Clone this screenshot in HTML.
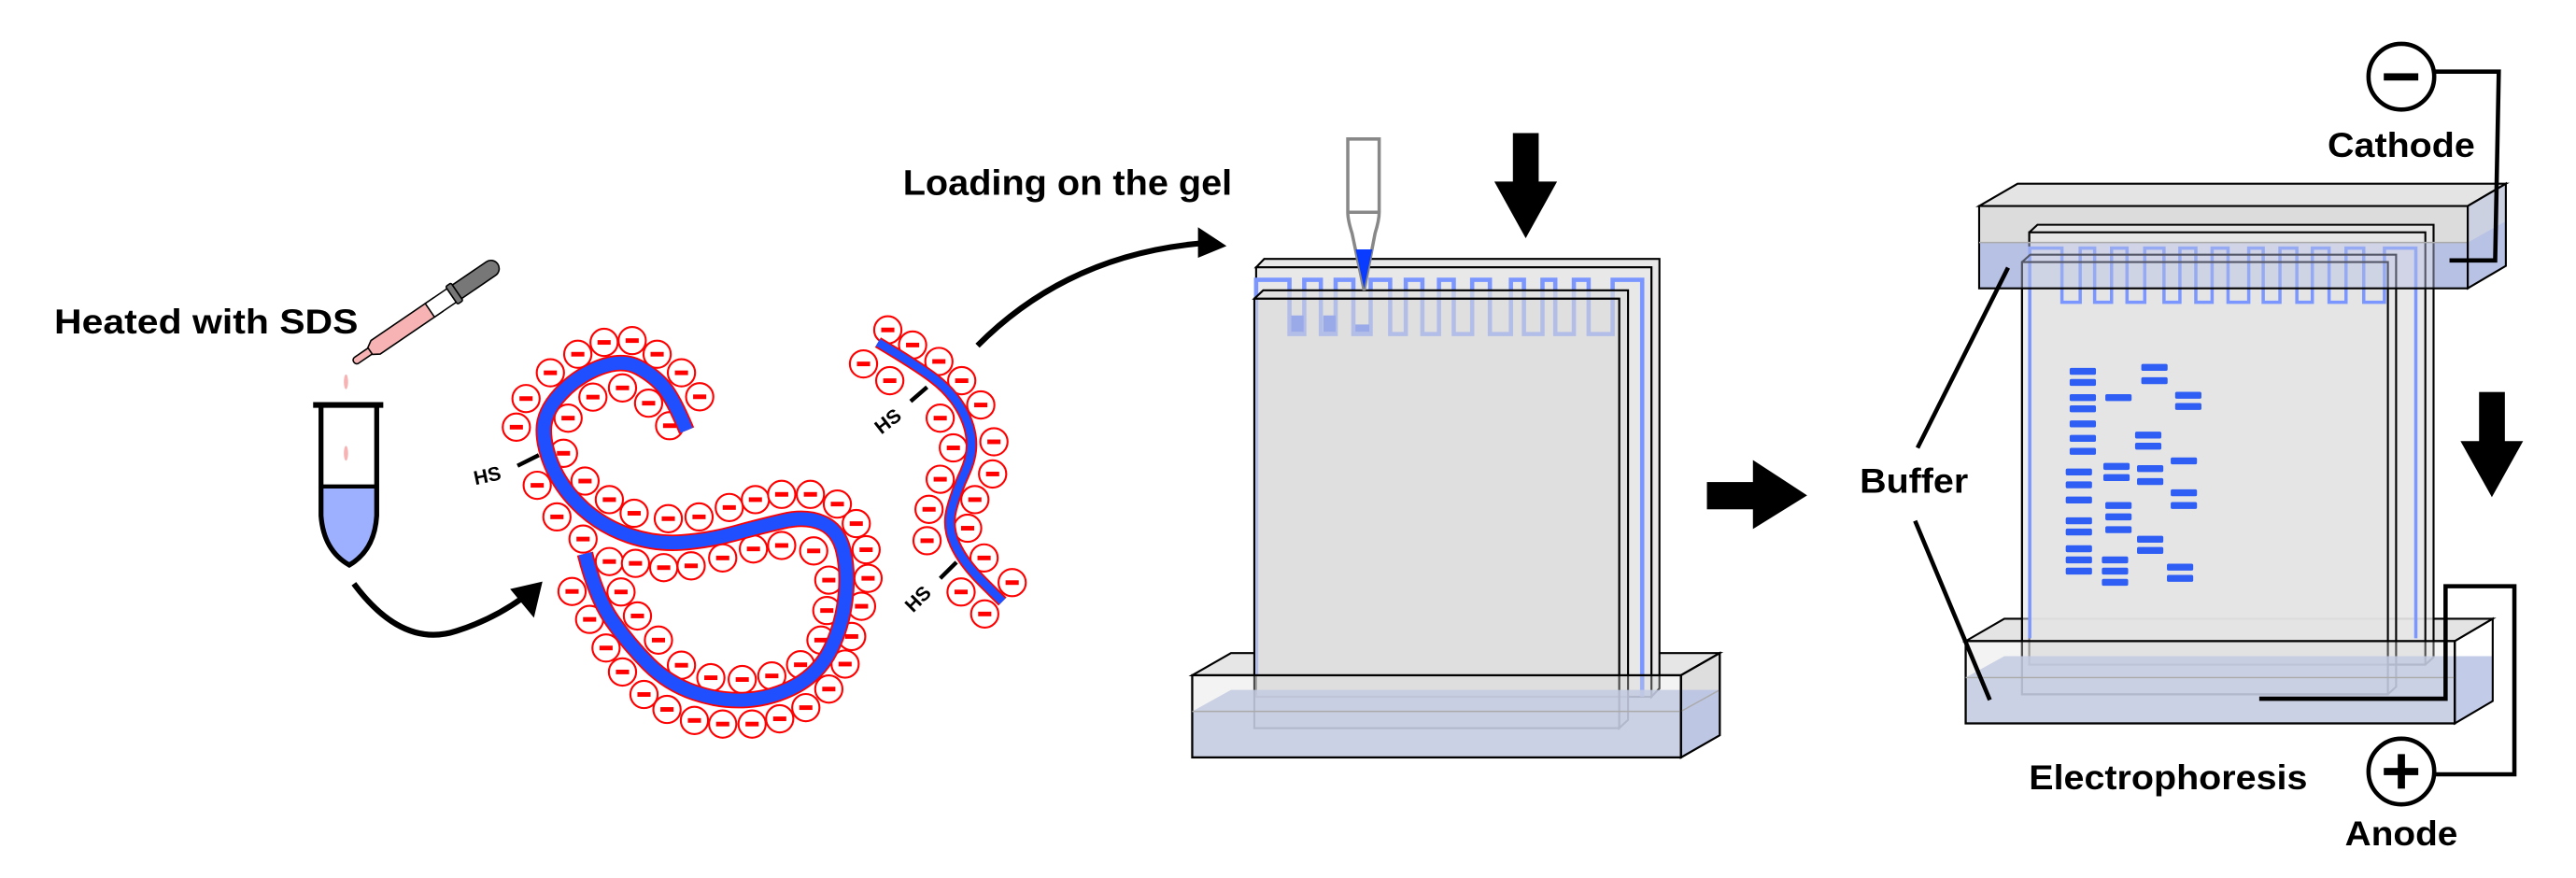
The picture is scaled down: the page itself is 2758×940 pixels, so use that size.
<!DOCTYPE html>
<html><head><meta charset="utf-8"><style>
html,body{margin:0;padding:0;background:#fff;}
svg{display:block;}
text{font-family:"Liberation Sans",Arial,sans-serif;font-weight:bold;fill:#000;}
</style></head><body>
<svg width="2758" height="940" viewBox="0 0 1568 534.4" preserveAspectRatio="none" xmlns="http://www.w3.org/2000/svg">
<defs>
<g id="c"><circle r="8.3" fill="#fff" stroke="#f00" stroke-width="1.2"/><rect x="-4" y="-1.4" width="8" height="2.8" fill="#f00"/></g>
</defs>

<!-- Left: text, dropper, tube -->
<text x="33" y="203" font-size="21" textLength="185" lengthAdjust="spacingAndGlyphs">Heated  with SDS</text>
<g transform="translate(215.4,220.4) rotate(-34.3)">
  <rect x="0" y="-2.2" width="14" height="4.4" rx="2" fill="#f7b3b3" stroke="#000" stroke-width="0.9"/>
  <path d="M12,-2.5 L16,-5 H62 V5 H16 L12,2.5Z" fill="#f7b3b3" stroke="#000" stroke-width="0.9"/>
  <rect x="56" y="-5" width="16" height="10" fill="#fff" stroke="#000" stroke-width="0.9"/>
  <rect x="72" y="-6.5" width="4" height="13" rx="1" fill="#777" stroke="#000" stroke-width="0.9"/>
  <path d="M76,-5 H101 A5,5 0 0 1 101,5 H76Z" fill="#777" stroke="#000" stroke-width="0.9"/>
</g>
<ellipse cx="210.6" cy="232.4" rx="1.3" ry="4.5" fill="#f7b3b3"/>
<ellipse cx="210.6" cy="275.9" rx="1.3" ry="4.5" fill="#f7b3b3"/>
<path d="M195.4,296.1 V313.9 Q197,335 212.6,343.9 Q228,335 229.3,313.9 V296.1Z" fill="#9db0ff"/>
<path d="M195.4,246.5 V313.9 Q197,335 212.6,343.9 Q228,335 229.3,313.9 V246.5" fill="none" stroke="#000" stroke-width="3"/>
<line x1="195.4" y1="296.1" x2="229.3" y2="296.1" stroke="#000" stroke-width="2.5"/>
<line x1="190.6" y1="246.5" x2="233.3" y2="246.5" stroke="#000" stroke-width="3.5"/>
<!-- curved arrow 1 -->
<path d="M215.4,355.3 Q245,395 278,384 Q300,377 318,364" fill="none" stroke="#000" stroke-width="3.5"/>
<polygon points="330.2,354 310.5,358.5 325,376" fill="#000"/>

<!-- big protein charges -->
<g>
<use href="#c" x="384.8" y="207.3"/><use href="#c" x="367.7" y="208.4"/><use href="#c" x="351.7" y="215.6"/><use href="#c" x="400" y="215.6"/>
<use href="#c" x="335" y="226.9"/><use href="#c" x="414.8" y="226.9"/><use href="#c" x="320.2" y="242.6"/><use href="#c" x="425.9" y="241.5"/>
<use href="#c" x="314.3" y="260"/><use href="#c" x="378.9" y="236.1"/><use href="#c" x="360.9" y="241.7"/><use href="#c" x="394.8" y="245.4"/>
<use href="#c" x="345.8" y="254.5"/><use href="#c" x="407.6" y="259.1"/><use href="#c" x="343" y="275.9"/><use href="#c" x="327" y="295.4"/>
<use href="#c" x="356.1" y="292.8"/><use href="#c" x="339" y="314.6"/><use href="#c" x="370.9" y="304.1"/><use href="#c" x="386" y="312.4"/>
<use href="#c" x="406.8" y="315.7"/><use href="#c" x="425.5" y="314.6"/><use href="#c" x="443.9" y="308.9"/><use href="#c" x="459.8" y="304.1"/>
<use href="#c" x="475.8" y="300.9"/><use href="#c" x="493.3" y="300.9"/><use href="#c" x="509.7" y="306.8"/><use href="#c" x="521.2" y="318.7"/>
<use href="#c" x="527.2" y="334.6"/><use href="#c" x="528.4" y="352"/><use href="#c" x="524.4" y="369"/><use href="#c" x="518.4" y="387.4"/>
<use href="#c" x="514.4" y="404.2"/><use href="#c" x="504.5" y="419.4"/><use href="#c" x="490.5" y="430.7"/><use href="#c" x="474.6" y="437.5"/>
<use href="#c" x="457.8" y="440.7"/><use href="#c" x="439.9" y="440.7"/><use href="#c" x="422.7" y="438.5"/><use href="#c" x="406" y="431.8"/>
<use href="#c" x="392" y="422.7"/><use href="#c" x="378.9" y="409"/><use href="#c" x="368.9" y="394.4"/><use href="#c" x="358.9" y="377"/>
<use href="#c" x="348.2" y="360"/><use href="#c" x="354.9" y="328.1"/><use href="#c" x="370.9" y="341.8"/><use href="#c" x="386.8" y="342.9"/>
<use href="#c" x="404" y="345.5"/><use href="#c" x="420.7" y="344.4"/><use href="#c" x="439.9" y="339.6"/><use href="#c" x="458.6" y="334.1"/>
<use href="#c" x="475.8" y="332"/><use href="#c" x="495.3" y="335.3"/><use href="#c" x="504.5" y="353.1"/><use href="#c" x="503.3" y="371.6"/>
<use href="#c" x="499.7" y="389.6"/><use href="#c" x="487.3" y="404.6"/><use href="#c" x="469.8" y="411.4"/><use href="#c" x="451.8" y="413.6"/>
<use href="#c" x="432.7" y="412.5"/><use href="#c" x="414.8" y="404.9"/><use href="#c" x="400.8" y="389.6"/><use href="#c" x="388" y="374.9"/>
<use href="#c" x="378" y="360.3"/>
</g>
<path id="bigr" d="M417.9,262 Q410,243 404.4,236.1 Q398.8,229.1 388.9,223.7 Q378.9,218.2 364.9,223.7 Q350.9,229.1 341,240 Q331,250.9 331,261.8 Q331,272.6 337,285.7 Q343,298.7 355,309.6 Q366.9,320.4 382.9,325.9 Q398.8,331.3 414.8,330.2 Q430.7,329.1 446.7,324.8 Q462.6,320.4 476.6,317.2 Q490.5,313.9 500.5,318.3 Q510.5,322.6 513.5,335.7 Q516.5,348.7 514.5,365 Q512.5,381.3 505.5,395.5 Q498.5,409.6 484.6,417.3 Q470.6,424.9 454.7,426 Q438.7,427 422.8,421.6 Q406.8,416.1 394.8,404.2 Q382.8,392.2 372.9,378.1 Q362.9,364 356.1,337" fill="none" stroke="#f00" stroke-width="10"/>
<path d="M417.9,262 Q410,243 404.4,236.1 Q398.8,229.1 388.9,223.7 Q378.9,218.2 364.9,223.7 Q350.9,229.1 341,240 Q331,250.9 331,261.8 Q331,272.6 337,285.7 Q343,298.7 355,309.6 Q366.9,320.4 382.9,325.9 Q398.8,331.3 414.8,330.2 Q430.7,329.1 446.7,324.8 Q462.6,320.4 476.6,317.2 Q490.5,313.9 500.5,318.3 Q510.5,322.6 513.5,335.7 Q516.5,348.7 514.5,365 Q512.5,381.3 505.5,395.5 Q498.5,409.6 484.6,417.3 Q470.6,424.9 454.7,426 Q438.7,427 422.8,421.6 Q406.8,416.1 394.8,404.2 Q382.8,392.2 372.9,378.1 Q362.9,364 356.1,337" fill="none" stroke="#1f4fff" stroke-width="8"/>
<line x1="315" y1="283.5" x2="328" y2="277" stroke="#000" stroke-width="2.5"/>
<text x="288" y="293" font-size="12" transform="rotate(-12 299 288)">HS</text>

<!-- small protein -->
<g>
<use href="#c" x="540.4" y="200.8"/><use href="#c" x="555.5" y="210"/><use href="#c" x="525.6" y="221.5"/><use href="#c" x="571.5" y="220"/>
<use href="#c" x="541.6" y="231.7"/><use href="#c" x="585.4" y="231.7"/><use href="#c" x="597" y="246.5"/><use href="#c" x="572.3" y="254.5"/>
<use href="#c" x="605" y="268.9"/><use href="#c" x="580.3" y="272.6"/><use href="#c" x="604.2" y="288.5"/><use href="#c" x="572.3" y="291.7"/>
<use href="#c" x="593.4" y="304.1"/><use href="#c" x="565.5" y="310"/><use href="#c" x="589" y="321.5"/><use href="#c" x="564.3" y="329.1"/>
<use href="#c" x="599" y="339.6"/><use href="#c" x="616.1" y="354.6"/><use href="#c" x="585" y="360.3"/><use href="#c" x="599.4" y="373.7"/>
</g>
<path d="M534.4,208.4 Q558.3,222.6 568.3,230.2 Q578.3,237.8 584.3,247.6 Q590.2,257.4 591.2,267.2 Q592.2,277 587.2,287.9 Q582.2,298.7 579.3,309.6 Q576.3,320.4 581.3,331.3 Q586.2,342.2 598.2,354.2 L610.2,366.1" fill="none" stroke="#f00" stroke-width="7"/>
<path d="M534.4,208.4 Q558.3,222.6 568.3,230.2 Q578.3,237.8 584.3,247.6 Q590.2,257.4 591.2,267.2 Q592.2,277 587.2,287.9 Q582.2,298.7 579.3,309.6 Q576.3,320.4 581.3,331.3 Q586.2,342.2 598.2,354.2 L610.2,366.1" fill="none" stroke="#1f4fff" stroke-width="5"/>
<line x1="554.3" y1="244.3" x2="564.3" y2="235.6" stroke="#000" stroke-width="2.5"/>
<text x="531" y="259" font-size="12" transform="rotate(-38 542 254)">HS</text>
<line x1="572.3" y1="352" x2="582.2" y2="342.2" stroke="#000" stroke-width="2.5"/>
<text x="549" y="367" font-size="12" transform="rotate(-45 560 362)">HS</text>

<!-- arrow 2 -->
<text x="549.6" y="118.4" font-size="21.5" textLength="200.4" lengthAdjust="spacingAndGlyphs">Loading on the gel</text>
<path d="M595,210.4 Q650,155 732,148" fill="none" stroke="#000" stroke-width="3.5"/>
<polygon points="746.6,149.7 729.2,138.3 729.2,156.9" fill="#000"/>

<!-- Gel 1 -->
<polygon points="749.3,397.5 1046.8,397.5 1023.2,411 725.7,411" fill="#e6e6e6" stroke="#000" stroke-width="1.2"/>
<polygon points="1023.2,411 1046.8,397.5 1046.8,447.5 1023.2,461" fill="#dedede" stroke="#000" stroke-width="1.2"/>
<polygon points="764.6,162.7 769.5,157.6 1010.1,157.6 1010.1,419 1005.2,424.1 1005.2,162.7" fill="#e8e8e8" stroke="#000" stroke-width="1.2"/>
<rect x="764.6" y="162.7" width="240.6" height="261.4" fill="#e8e8e8" stroke="#000" stroke-width="1.2"/>
<path d="M764.6,411.5 V170.3 H784.9 V203.3 H793.9 V170.3 H804 V203.3 H813 V170.3 H823.8 V203.3 H834.3 V170.3 H846.2 V203.3 H855.7 V170.3 H865.8 V203.3 H875.9 V170.3 H884.9 V203.3 H896.1 V170.3 H906.9 V203.3 H919.7 V170.3 H927.6 V203.3 H938.9 V170.3 H946.7 V203.3 H958 V170.3 H967 V203.3 H981.6 V170.3 H999.6 V424" fill="none" stroke="#7b97ff" stroke-width="2.6"/>
<polygon points="763.5,181.8 768.9,176.7 991,176.7 991,438.1 985.6,443.2 985.6,181.8" fill="#dedede" stroke="#000" stroke-width="1.2" fill-opacity="0.7"/>
<rect x="763.5" y="181.8" width="222.1" height="261.4" fill="#d8d8d8" fill-opacity="0.6" stroke="#000" stroke-width="1.2"/>
<rect x="786" y="192" width="7.5" height="10" fill="#9aaae8"/>
<rect x="805.5" y="192" width="7.5" height="10" fill="#9aaae8"/>
<rect x="825" y="197.5" width="8.5" height="4.5" fill="#9aaae8"/>
<polygon points="725.7,433 749.3,419.9 1046.8,419.9 1046.8,447.5 1023.2,461 725.7,461" fill="#b7c2e4" fill-opacity="0.85"/>
<rect x="725.7" y="411" width="297.5" height="50" fill="#dcdcdc" fill-opacity="0.35" stroke="#000" stroke-width="1.3"/>
<line x1="725.7" y1="433" x2="1023.2" y2="433" stroke="#aaa" stroke-width="0.8"/>
<line x1="1023.2" y1="433" x2="1046.8" y2="419.9" stroke="#aaa" stroke-width="0.8"/>
<polygon points="1023.2,411 1046.8,397.5 1046.8,447.5 1023.2,461" fill="none" stroke="#000" stroke-width="1.2"/>
<path d="M820.4,84.6 H839.5 V129.2 Q839.5,134 837,142 L830.3,176.7 L823,142 Q820.4,134 820.4,129.2Z" fill="#fff" stroke="#888" stroke-width="2"/>
<line x1="820.4" y1="129.2" x2="839.5" y2="129.2" stroke="#888" stroke-width="2"/>
<polygon points="825.2,151.8 835.3,151.8 830.3,175.5" fill="#0a3cff"/>
<rect x="920.9" y="81" width="15.7" height="30" fill="#000"/>
<polygon points="909.6,110.5 947.8,110.5 928.7,145" fill="#000"/>
<rect x="1039" y="293.4" width="30" height="16.6" fill="#000"/>
<polygon points="1067,280 1100,301.5 1067,322" fill="#000"/>

<!-- Gel 2 -->
<polygon points="1204.7,125.4 1228.1,111.8 1525.3,111.8 1502.1,125.4" fill="#e4e4e4" stroke="#000" stroke-width="1.2"/>
<polygon points="1204.7,147.6 1228.1,134.6 1525.3,134.6 1525.3,161.8 1502.1,175.5 1204.7,175.5" fill="#b7c2e4"/>
<rect x="1204.7" y="125.4" width="297.4" height="22.2" fill="#dcdcdc"/>
<polygon points="1502.1,125.4 1525.3,111.8 1525.3,134.6 1502.1,147.6" fill="#e0e0e0"/>
<polygon points="1196.5,390.2 1220,376.6 1517.3,376.6 1494.2,390.2" fill="#e4e4e4" stroke="#000" stroke-width="1.2"/>
<polygon points="1235.2,141.4 1240.2,136.8 1481.3,136.8 1481.3,400 1476.3,404.5 1235.2,404.5" fill="#e8e8e8" fill-opacity="0.8" stroke="#000" stroke-width="1.2"/>
<rect x="1235.2" y="141.4" width="241.1" height="263.1" fill="#e6e6e6" fill-opacity="0.6" stroke="#000" stroke-width="1.2"/>
<rect x="1230.8" y="159.5" width="222.7" height="263.1" fill="#e2e2e2" fill-opacity="0.55"/>
<path d="M1235.5,388.5 V151 H1255.1 V184 H1266.2 V151 H1275 V184 H1285.3 V151 H1294.7 V184 H1305.5 V151 H1317.2 V184 H1326.9 V151 H1336.6 V184 H1346.5 V151 H1356.2 V184 H1368.8 V151 H1377.6 V184 H1387.8 V151 H1398.1 V184 H1407.5 V151 H1417.7 V184 H1428 V151 H1438.8 V184 H1451.4 V151 H1470.5 V388.5" fill="none" stroke="#7b97ff" stroke-width="2"/>
<polygon points="1230.8,159.5 1235.8,155 1458.5,155 1458.5,418 1453.5,422.6 1230.8,422.6" fill="none" stroke="#000" stroke-width="1.2"/>
<rect x="1230.8" y="159.5" width="222.7" height="263.1" fill="none" stroke="#000" stroke-width="1.2"/>
<g fill="#2f5ef5">
<rect x="1259.8" y="223.9" width="16" height="4.2" rx="1"/><rect x="1259.8" y="230.7" width="16" height="4.2" rx="1"/>
<rect x="1259.8" y="239.9" width="16" height="4.2" rx="1"/><rect x="1259.8" y="246.7" width="16" height="4.2" rx="1"/>
<rect x="1259.8" y="255.9" width="16" height="4.2" rx="1"/><rect x="1259.8" y="264.7" width="16" height="4.2" rx="1"/>
<rect x="1259.8" y="272.6" width="16" height="4.2" rx="1"/>
<rect x="1257.4" y="285.2" width="16" height="4.2" rx="1"/><rect x="1257.4" y="293" width="16" height="4.2" rx="1"/>
<rect x="1257.4" y="302.2" width="16" height="4.2" rx="1"/><rect x="1257.4" y="314.9" width="16" height="4.2" rx="1"/>
<rect x="1257.4" y="321.7" width="16" height="4.2" rx="1"/><rect x="1257.4" y="331.9" width="16" height="4.2" rx="1"/>
<rect x="1257.4" y="338.7" width="16" height="4.2" rx="1"/><rect x="1257.4" y="345.5" width="16" height="4.2" rx="1"/>
<rect x="1281.5" y="239.9" width="16" height="4.2" rx="1"/>
<rect x="1280.3" y="281.8" width="16" height="4.2" rx="1"/><rect x="1280.3" y="288.6" width="16" height="4.2" rx="1"/>
<rect x="1281.5" y="305.6" width="16" height="4.2" rx="1"/><rect x="1281.5" y="312.5" width="16" height="4.2" rx="1"/>
<rect x="1281.5" y="320.3" width="16" height="4.2" rx="1"/>
<rect x="1279.4" y="338.7" width="16" height="4.2" rx="1"/><rect x="1279.4" y="345.5" width="16" height="4.2" rx="1"/>
<rect x="1279.4" y="352.3" width="16" height="4.2" rx="1"/>
<rect x="1303.4" y="221.5" width="16" height="4.2" rx="1"/><rect x="1303.4" y="229.6" width="16" height="4.2" rx="1"/>
<rect x="1299.6" y="262.7" width="16" height="4.2" rx="1"/><rect x="1299.6" y="269.5" width="16" height="4.2" rx="1"/>
<rect x="1300.8" y="283.1" width="16" height="4.2" rx="1"/><rect x="1300.8" y="291" width="16" height="4.2" rx="1"/>
<rect x="1300.8" y="326.1" width="16" height="4.2" rx="1"/><rect x="1300.8" y="332.9" width="16" height="4.2" rx="1"/>
<rect x="1324" y="238.5" width="16" height="4.2" rx="1"/><rect x="1324" y="245.3" width="16" height="4.2" rx="1"/>
<rect x="1321.3" y="278.4" width="16" height="4.2" rx="1"/>
<rect x="1321.3" y="297.8" width="16" height="4.2" rx="1"/><rect x="1321.3" y="305.6" width="16" height="4.2" rx="1"/>
<rect x="1319" y="343.1" width="16" height="4.2" rx="1"/><rect x="1319" y="349.9" width="16" height="4.2" rx="1"/>
</g>
<rect x="1204.7" y="147.6" width="297.4" height="27.9" fill="#b7c2e4" fill-opacity="0.45"/>
<rect x="1204.7" y="125.4" width="297.4" height="50.1" fill="none" stroke="#000" stroke-width="1.2"/>
<line x1="1204.7" y1="147.6" x2="1502.1" y2="147.6" stroke="#aaa" stroke-width="0.8"/>
<polygon points="1502.1,125.4 1525.3,111.8 1525.3,161.8 1502.1,175.5" fill="#b7c2e4" fill-opacity="0.5" stroke="#000" stroke-width="1.2"/>
<polygon points="1196.5,412.4 1220,399.4 1517.3,399.4 1517.3,426.7 1494.2,440.3 1196.5,440.3" fill="#b7c2e4" fill-opacity="0.85"/>
<rect x="1196.5" y="390.2" width="297.7" height="50.1" fill="#dcdcdc" fill-opacity="0.35" stroke="#000" stroke-width="1.3"/>
<line x1="1196.5" y1="412.4" x2="1494.2" y2="412.4" stroke="#aaa" stroke-width="0.8"/>
<polygon points="1494.2,390.2 1517.3,376.6 1517.3,426.7 1494.2,440.3" fill="none" stroke="#000" stroke-width="1.2"/>
<polyline points="1482,43.6 1521,43.6 1518.8,158.5 1491,158.5" fill="none" stroke="#000" stroke-width="2.6"/>
<polyline points="1482,471.3 1530.5,471.3 1530.5,356.8 1488.6,356.8 1488.6,425.3 1375.2,425.3" fill="none" stroke="#000" stroke-width="2.6"/>
<circle cx="1461.7" cy="46.7" r="20" fill="#fff" stroke="#000" stroke-width="2.6"/>
<rect x="1451" y="44.6" width="21" height="4.4" fill="#000"/>
<circle cx="1461.7" cy="469.6" r="20" fill="#fff" stroke="#000" stroke-width="2.6"/>
<rect x="1451" y="467.4" width="21" height="4.4" fill="#000"/>
<rect x="1459.5" y="459" width="4.4" height="21" fill="#000"/>
<text x="1416.8" y="95.4" font-size="21" textLength="89.7" lengthAdjust="spacingAndGlyphs">Cathode</text>
<text x="1427.4" y="514.6" font-size="21" textLength="68.6" lengthAdjust="spacingAndGlyphs">Anode</text>
<text x="1235" y="480.5" font-size="21" textLength="169.5" lengthAdjust="spacingAndGlyphs">Electrophoresis</text>
<text x="1132" y="300" font-size="21" textLength="66" lengthAdjust="spacingAndGlyphs">Buffer</text>
<line x1="1222.3" y1="162.9" x2="1167.2" y2="272.6" stroke="#000" stroke-width="2.6"/>
<line x1="1165.7" y1="317" x2="1211.2" y2="426" stroke="#000" stroke-width="2.6"/>
<rect x="1509" y="238.6" width="15.7" height="31" fill="#000"/>
<polygon points="1497.7,268.5 1535.8,268.5 1516.8,302.6" fill="#000"/>
</svg>
</body></html>
